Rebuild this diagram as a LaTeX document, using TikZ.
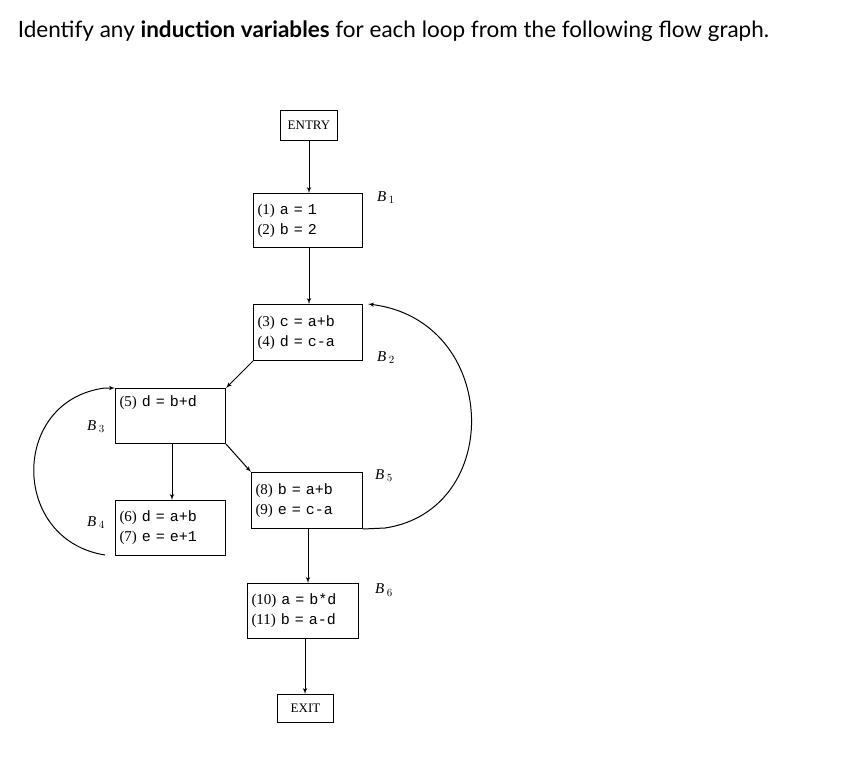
\documentclass[tikz,border=0pt]{standalone}
\usepackage{fontspec}
\setmainfont{Lato}
\newfontfamily\tmsfont{Liberation Serif}
\newfontfamily\monofont{Liberation Mono}
\usepackage{tikz}
\usetikzlibrary{arrows}

\begin{document}
\begin{tikzpicture}[x=1pt,y=-1pt,line width=1pt]
\tikzset{block/.style = {draw,rectangle,anchor=north west,inner xsep=4pt,inner ysep=0pt,font=\tmsfont\fontsize{15}{20}\selectfont,align=left}}
\tikzset{edge/.style = {->,> = latex'}}
\tikzset{blabel/.style = {font=\tmsfont\itshape\fontsize{15}{15}\selectfont}}
\newcommand{\cd}[1]{{\monofont #1}}
\useasboundingbox (0,0) rectangle (851,758);
\node[anchor=west,font=\fontsize{22.5}{24}\selectfont] (title) at (14,31)
  {Identify any \textbf{induction variables} for each loop from the following flow graph.};
% blocks
\node[block,minimum width=57pt,minimum height=30pt,align=center,font=\tmsfont\fontsize{13}{15}\selectfont] (entry) at (280,110) {ENTRY};
\node[block,text width=101pt,minimum height=54pt] (b1) at (253,193)
  {(1) \cd{a = 1}\\(2) \cd{b = 2}};
\node[block,text width=101pt,minimum height=56pt] (b2) at (253,304)
  {(3) \cd{c = a+b}\\(4) \cd{d = c-a}};
\node[block,text width=102pt,minimum height=55pt,text depth=30pt] (b3) at (115,388)
  {(5) \cd{d = b+d}};
\node[block,text width=102pt,minimum height=55pt] (b4) at (115,500)
  {(6) \cd{d = a+b}\\(7) \cd{e = e+1}};
\node[block,text width=103pt,minimum height=56pt] (b5) at (251,472)
  {(8) \cd{b = a+b}\\(9) \cd{e = c-a}};
\node[block,text width=103pt,minimum height=55pt] (b6) at (247,583)
  {(10) \cd{a = b*d}\\(11) \cd{b = a-d}};
\node[block,minimum width=56pt,minimum height=28pt,align=center,font=\tmsfont\fontsize{13}{15}\selectfont] (exit) at (277,694) {EXIT};
% labels
\node[blabel] at (386,198) {B\,$_1$};
\node[blabel] at (386,358) {B\,$_2$};
\node[blabel] at (96,427) {B\,$_3$};
\node[blabel] at (96,523) {B\,$_4$};
\node[blabel] at (384,476) {B\,$_5$};
\node[blabel] at (384,590) {B\,$_6$};
% edges
\coordinate (b5r) at (385,528);
\coordinate (b2r) at (368,304);
\coordinate (b4l) at (105,555);
\coordinate (b3l) at (105,388);
\draw (b5.south east) -- (b5r);
\draw[edge] (entry.south) -- (entry.south |- b1.north);
\draw[edge] (b1.south -| entry.south) -- (entry.south |- b2.north);
\draw[edge] (b2.south west) -- (b3.north east);
\draw[edge] (172,443) -- (172,500);
\draw[edge] (b3.south east) -- (b5.north west);
\draw[edge] (308,528) -- (308,583);
\draw[edge] (305,638) -- (305,694);
\draw[edge] (b5r) .. controls (505,510) and (500,320) .. (b2r);
\draw[edge] (b4l) .. controls (10,540) and (10,400) .. (b3l) -- (b3.north west);
\end{tikzpicture}
\end{document}
